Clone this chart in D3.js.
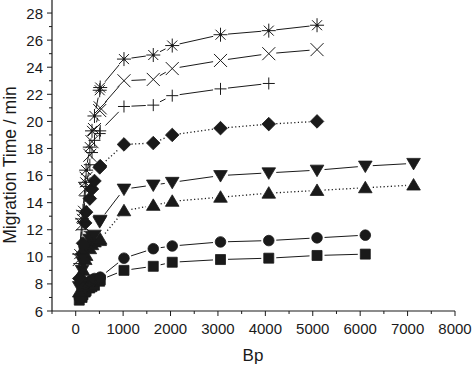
<!DOCTYPE html>
<html>
<head>
<meta charset="utf-8">
<script src="https://cdn.jsdelivr.net/npm/d3@7"></script>
<style>
  body { margin: 0; background: #fff; }
  text { font-family: "Liberation Sans", Arial, sans-serif; fill: #1a1a1a; }
</style>
</head>
<body>
<div id="chart"></div>
<script>
// fragment sizes (bp) shared by all series
let bp = [75, 134, 154, 201, 220, 298, 344, 396, 506, 517, 1018, 1636, 2036, 3054, 4072, 5090, 6108, 7126];

// migration times, one array per series (same order as bp, shorter where the series stops)
let asteriskTimes = [10.2, 12.8, 13.4, 15.5, 16.4, 18.1, 19.3, 20.4, 22.3, 22.5, 24.6, 24.9, 25.6, 26.4, 26.7, 27.1];
let crossTimes    = [9.8, 12.4, 13.0, 15.0, 15.8, 17.5, 18.5, 19.4, 20.8, 21.0, 23.0, 23.1, 23.9, 24.5, 25.0, 25.3];
let plusTimes     = [9.5, 12.0, 12.6, 14.5, 15.2, 16.8, 17.7, 18.6, 19.1, 19.3, 21.1, 21.2, 21.9, 22.4, 22.8];
let diamondTimes  = [8.4, 10.2, 11.0, 12.5, 13.3, 14.3, 15.0, 15.6, 16.6, 16.7, 18.3, 18.4, 19.0, 19.5, 19.8, 20.0];
let downTriTimes  = [7.8, 9.0, 9.6, 10.4, 10.8, 11.3, 11.5, 11.6, 12.6, 12.7, 15.0, 15.3, 15.5, 16.0, 16.2, 16.4, 16.7, 16.9];
let upTriTimes    = [7.4, 8.5, 9.0, 9.8, 10.1, 10.6, 10.9, 11.1, 11.2, 11.3, 13.4, 13.8, 14.1, 14.4, 14.7, 14.9, 15.1, 15.3];
let circleTimes   = [7.0, 7.5, 7.7, 8.0, 8.1, 8.2, 8.3, 8.4, 8.4, 8.5, 9.9, 10.6, 10.8, 11.1, 11.2, 11.4, 11.6];
let squareTimes   = [6.8, 7.0, 7.2, 7.4, 7.5, 7.7, 7.8, 7.9, 8.2, 8.3, 9.0, 9.3, 9.6, 9.8, 9.9, 10.1, 10.2];

let xTicks = [0, 1000, 2000, 3000, 4000, 5000, 6000, 7000, 8000];
let yTicks = [6, 8, 10, 12, 14, 16, 18, 20, 22, 24, 26, 28];

let series = [
  { times: squareTimes,   symbol: "square",  dash: null },
  { times: circleTimes,   symbol: "circle",  dash: null },
  { times: upTriTimes,    symbol: "up",      dash: "1.2,2.4" },
  { times: downTriTimes,  symbol: "down",    dash: null },
  { times: diamondTimes,  symbol: "diamond", dash: "1.2,2.4" },
  { times: plusTimes,     symbol: "plus",    dash: null },
  { times: crossTimes,    symbol: "cross",   dash: null },
  { times: asteriskTimes, symbol: "star",    dash: null }
];

let width = 474, height = 367;
let ink = "#1a1a1a";

let svg = d3.select("#chart")
  .append("svg")
  .attr("width", width)
  .attr("height", height);

let x = d3.scaleLinear().domain([-500, 8000]).range([52, 455]);
let y = d3.scaleLinear().domain([6, 29]).range([311, -0.5]);

// x axis
let xAxis = svg.append("g").attr("transform", "translate(0,311)");
xAxis.append("line")
  .attr("x1", x(-500)).attr("x2", x(8000))
  .attr("stroke", ink).attr("stroke-width", 1.2);
xAxis.selectAll(".minor")
  .data(d3.range(-500, 8001, 500))
  .enter().append("line")
  .attr("x1", d => x(d)).attr("x2", d => x(d))
  .attr("y1", 0).attr("y2", d => d % 1000 === 0 ? 5 : 3)
  .attr("stroke", ink).attr("stroke-width", 1);
xAxis.selectAll("text")
  .data(xTicks)
  .enter().append("text")
  .attr("x", d => x(d)).attr("y", 23)
  .attr("text-anchor", "middle")
  .attr("font-size", 15)
  .text(d => d);

// y axis
let yAxis = svg.append("g").attr("transform", "translate(52,0)");
yAxis.append("line")
  .attr("y1", y(6)).attr("y2", 0)
  .attr("stroke", ink).attr("stroke-width", 1.2);
yAxis.selectAll(".minor")
  .data(d3.range(6, 29, 1))
  .enter().append("line")
  .attr("y1", d => y(d)).attr("y2", d => y(d))
  .attr("x1", d => d % 2 === 0 ? -5 : -3).attr("x2", 0)
  .attr("stroke", ink).attr("stroke-width", 1);
yAxis.selectAll("text")
  .data(yTicks)
  .enter().append("text")
  .attr("x", -9).attr("y", d => y(d) + 5.5)
  .attr("text-anchor", "end")
  .attr("font-size", 15)
  .text(d => d);

// axis titles
svg.append("text")
  .attr("x", 253).attr("y", 361)
  .attr("text-anchor", "middle")
  .attr("font-size", 17)
  .text("Bp");
svg.append("text")
  .attr("transform", "translate(16,165) rotate(-90)")
  .attr("text-anchor", "middle")
  .attr("font-size", 17.5)
  .text("Migration Time / min");

// marker shapes, centred on 0,0
function symbolPath(kind) {
  switch (kind) {
    case "square": return "M-5,-5H5V5H-5Z";
    case "circle": return "M5.3,0A5.3,5.3 0 1,1 -5.3,0A5.3,5.3 0 1,1 5.3,0Z";
    case "up": return "M0,-6.5L6.8,5L-6.8,5Z";
    case "down": return "M0,6.5L6.8,-5L-6.8,-5Z";
    case "diamond": return "M0,-6.8L6.8,0L0,6.8L-6.8,0Z";
    case "plus": return "M-6,0H6M0,-6V6";
    case "cross": return "M-6.5,-6.5L6.5,6.5M-6.5,6.5L6.5,-6.5";
    case "star": return "M-7,0H7M0,-7V7M-5,-5L5,5M-5,5L5,-5";
  }
}
let openSymbols = ["plus", "cross", "star"];

let plot = svg.append("g");

series.forEach(s => {
  let pts = s.times.map((t, i) => [x(bp[i]), y(t)]);

  // connecting lines, cut back around each symbol like the original plot
  let gap = 7.5;
  let segs = [];
  for (let i = 0; i < pts.length - 1; i++) {
    let [x1, y1] = pts[i], [x2, y2] = pts[i + 1];
    let d = Math.hypot(x2 - x1, y2 - y1);
    if (d <= 2 * gap + 1) continue;
    let ux = (x2 - x1) / d, uy = (y2 - y1) / d;
    segs.push([x1 + ux * gap, y1 + uy * gap, x2 - ux * gap, y2 - uy * gap]);
  }
  plot.append("g").selectAll("line")
    .data(segs)
    .enter().append("line")
    .attr("x1", d => d[0]).attr("y1", d => d[1])
    .attr("x2", d => d[2]).attr("y2", d => d[3])
    .attr("stroke", ink)
    .attr("stroke-width", s.dash ? 1.3 : 1)
    .attr("stroke-dasharray", s.dash);

  let open = openSymbols.includes(s.symbol);
  plot.append("g").selectAll("path")
    .data(pts)
    .enter().append("path")
    .attr("transform", d => `translate(${d[0]},${d[1]})`)
    .attr("d", symbolPath(s.symbol))
    .attr("fill", open ? "none" : ink)
    .attr("stroke", ink)
    .attr("stroke-width", open ? 1 : 0.8);

  if (s.symbol === "star") {
    plot.append("g").selectAll("circle")
      .data(pts)
      .enter().append("circle")
      .attr("cx", d => d[0]).attr("cy", d => d[1])
      .attr("r", 1.5).attr("fill", ink);
  }
});
</script>
</body>
</html>
